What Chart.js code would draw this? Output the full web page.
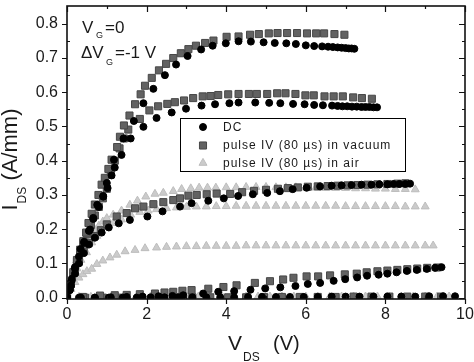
<!doctype html>
<html>
<head>
<meta charset="utf-8">
<script src="https://cdn.jsdelivr.net/npm/chart.js@4"></script>
<style>
  body { margin: 0; background: #fff; }
  #wrap { width: 474px; height: 362px; }
</style>
</head>
<body>
<div id="wrap"><canvas id="c" width="474" height="362"></canvas></div>
<script>
// ——— data (VDS in V, IDS in A/mm) ———
const legendLabels = ["DC", "pulse IV (80 \u00b5s) in vacuum", "pulse IV (80 \u00b5s) in air"];

// DC, VG = 0 ... -4 V
const dcVg0X = [0,0.07,0.12,0.2,0.34,0.43,0.58,0.66,0.76,0.91,1.0,1.18,1.42,1.68,1.92,2.17,2.46,2.74,3.03,3.37,3.66,3.99,4.31,4.62,4.94,5.22,5.51,5.75,6.0,6.21,6.41,6.56,6.68,6.8,6.9,7.0,7.08,7.15,7.22];
const dcVg0Y = [0,0.022,0.055,0.089,0.142,0.163,0.199,0.233,0.271,0.297,0.335,0.403,0.465,0.516,0.568,0.61,0.65,0.681,0.706,0.725,0.736,0.743,0.749,0.748,0.746,0.744,0.743,0.741,0.737,0.735,0.734,0.733,0.732,0.731,0.73,0.729,0.728,0.728,0.727];
const dcVg1X = [0,0.07,0.12,0.2,0.3,0.43,0.55,0.66,0.8,0.91,1.02,1.12,1.2,1.37,1.6,1.92,2.25,2.63,2.99,3.38,3.72,4.08,4.31,4.73,5.08,5.36,5.68,5.97,6.21,6.43,6.66,6.8,6.92,7.04,7.16,7.28,7.4,7.5,7.6,7.7,7.79];
const dcVg1Y = [0,0.022,0.05,0.085,0.12,0.16,0.195,0.23,0.265,0.295,0.32,0.357,0.38,0.417,0.465,0.499,0.525,0.541,0.552,0.561,0.565,0.568,0.57,0.57,0.569,0.568,0.566,0.565,0.563,0.562,0.561,0.56,0.559,0.559,0.558,0.558,0.557,0.557,0.557,0.556,0.556];
const dcVg2X = [0,0.1,0.2,0.3,0.42,0.55,0.7,0.87,1.05,1.3,1.58,2.02,2.4,2.84,3.13,3.55,3.94,4.3,4.67,5.03,5.35,5.67,6.02,6.36,6.65,6.9,7.15,7.4,7.65,7.85,8.05,8.2,8.35,8.5,8.62];
const dcVg2Y = [0,0.035,0.07,0.1,0.13,0.155,0.175,0.19,0.205,0.217,0.227,0.237,0.252,0.266,0.276,0.283,0.29,0.297,0.302,0.306,0.311,0.317,0.321,0.325,0.327,0.328,0.329,0.33,0.33,0.331,0.331,0.332,0.332,0.332,0.333];
const dcVg3X = [0,0.3,0.7,1.1,1.5,1.9,2.3,2.65,2.92,3.42,3.8,4.2,4.61,4.98,5.36,5.74,6.05,6.36,6.7,6.99,7.29,7.54,7.83,8.05,8.28,8.54,8.79,9.04,9.25,9.41];
const dcVg3Y = [0,0,0,0.001,0.002,0.003,0.004,0.005,0.007,0.012,0.017,0.019,0.023,0.027,0.03,0.034,0.04,0.043,0.049,0.054,0.059,0.064,0.067,0.07,0.074,0.078,0.081,0.084,0.087,0.089];
const dcVg4X = [0,0.35,0.7,1.05,1.4,1.75,2.1,2.45,2.8,3.15,3.5,3.85,4.2,4.55,4.9,5.25,5.6,5.95,6.3,6.65,7.0,7.35,7.7,8.05,8.4,8.75,9.1,9.45,9.75];
const dcVg4Y = [0,0,0,0,0,0,0.001,0.001,0.001,0.001,0.001,0.001,0.001,0.002,0.002,0.002,0.002,0.002,0.002,0.003,0.003,0.003,0.003,0.003,0.003,0.003,0.004,0.004,0.004];

// pulsed in vacuum
const vacVg0X = [0,0.08,0.16,0.25,0.33,0.41,0.48,0.54,0.62,0.7,0.79,0.87,0.95,1.04,1.12,1.26,1.33,1.43,1.57,1.71,1.85,1.96,2.13,2.31,2.49,2.67,2.86,3.05,3.24,3.47,3.68,4.01,4.31,4.6,4.82,5.07,5.29,5.53,5.78,6.03,6.26,6.46,6.72,6.97];
const vacVg0Y = [0,0.04,0.075,0.11,0.14,0.165,0.19,0.218,0.245,0.272,0.3,0.33,0.35,0.376,0.403,0.44,0.47,0.503,0.532,0.565,0.594,0.619,0.642,0.664,0.683,0.7,0.714,0.726,0.736,0.744,0.751,0.762,0.763,0.768,0.77,0.772,0.773,0.773,0.773,0.772,0.772,0.772,0.77,0.768];
const vacVg1X = [0,0.08,0.16,0.25,0.33,0.41,0.5,0.6,0.7,0.8,0.9,1.0,1.1,1.2,1.32,1.43,1.54,1.83,2.07,2.29,2.52,2.71,2.94,3.17,3.41,3.61,3.8,4.05,4.31,4.57,4.77,5.03,5.28,5.49,5.74,5.99,6.2,6.47,6.7,6.93,7.19,7.41,7.66];
const vacVg1Y = [0,0.038,0.072,0.105,0.135,0.16,0.185,0.212,0.24,0.265,0.29,0.318,0.36,0.4,0.436,0.465,0.491,0.522,0.547,0.559,0.566,0.571,0.576,0.583,0.588,0.589,0.592,0.594,0.595,0.595,0.595,0.595,0.597,0.597,0.595,0.591,0.591,0.588,0.588,0.588,0.585,0.583,0.581];
const vacVg2X = [0,0.1,0.2,0.3,0.42,0.55,0.7,0.85,1.0,1.25,1.5,1.71,1.92,2.17,2.42,2.67,2.84,3.05,3.26,3.51,3.76,4.1,4.4,4.7,5.0,5.3,5.55,5.8,6.05,6.3,6.55,6.8,7.05,7.3,7.55,7.8,8.05,8.3,8.5];
const vacVg2Y = [0,0.04,0.075,0.105,0.135,0.16,0.18,0.197,0.214,0.237,0.247,0.261,0.266,0.273,0.279,0.285,0.29,0.298,0.3,0.302,0.304,0.303,0.308,0.312,0.315,0.318,0.32,0.322,0.324,0.325,0.326,0.327,0.328,0.329,0.33,0.331,0.332,0.333,0.334];
const vacVg3X = [0,0.4,0.83,1.2,1.5,1.83,2.21,2.45,2.67,2.9,3.13,3.55,3.93,4.26,4.72,5.1,5.43,5.69,6.02,6.31,6.61,6.98,7.28,7.53,7.8,8.05,8.3,8.55,8.8,9.05,9.3];
const vacVg3Y = [0,0.002,0.006,0.007,0.008,0.01,0.012,0.015,0.017,0.02,0.022,0.026,0.031,0.036,0.043,0.048,0.053,0.058,0.062,0.062,0.065,0.068,0.07,0.074,0.077,0.079,0.081,0.083,0.085,0.087,0.088];
const vacVg4X = [0,0.45,0.9,1.35,1.8,2.25,2.7,3.15,3.6,4.05,4.5,4.95,5.4,5.85,6.3,6.75,7.2,7.65,8.1,8.55,9.0,9.4];
const vacVg4Y = [0,0,0,0,0,0.001,0.001,0.001,0.001,0.001,0.001,0.002,0.002,0.002,0.002,0.002,0.003,0.003,0.003,0.003,0.003,0.003];

// pulsed in air
const airVg0X = [0,0.08,0.16,0.24,0.33,0.42,0.5,0.6,0.7,0.8,0.9,1.0,1.16,1.37,1.58,1.77,1.98,2.21,2.42,2.67,2.88,3.11,3.32,3.53,3.74,4.0,4.25,4.5,4.75,5.0,5.25,5.5,5.75,6.0,6.25,6.5,6.75,7.0,7.25,7.5,7.75,8.0,8.25,8.5,8.75];
const airVg0Y = [0,0.04,0.079,0.108,0.13,0.15,0.168,0.185,0.198,0.21,0.222,0.232,0.242,0.254,0.271,0.283,0.295,0.303,0.306,0.311,0.317,0.319,0.321,0.321,0.321,0.322,0.322,0.323,0.323,0.323,0.322,0.322,0.322,0.321,0.321,0.32,0.32,0.32,0.319,0.319,0.318,0.318,0.317,0.317,0.316];
const airVg1X = [0,0.08,0.16,0.25,0.35,0.49,0.62,0.75,0.87,1.0,1.16,1.37,1.6,1.83,2.04,2.25,2.5,2.75,3.0,3.25,3.5,3.75,4.0,4.25,4.5,4.75,5.0,5.25,5.5,5.75,6.0,6.25,6.5,6.75,7.0,7.25,7.5,7.75,8.0,8.25,8.5,8.75,9.0];
const airVg1Y = [0,0.03,0.06,0.085,0.11,0.132,0.161,0.18,0.194,0.206,0.218,0.228,0.242,0.25,0.254,0.258,0.261,0.263,0.265,0.266,0.266,0.267,0.267,0.268,0.268,0.268,0.268,0.268,0.268,0.268,0.268,0.268,0.268,0.268,0.267,0.267,0.267,0.267,0.267,0.267,0.266,0.266,0.266];
const airVg2X = [0,0.1,0.2,0.3,0.4,0.5,0.62,0.75,0.9,1.08,1.25,1.46,1.71,1.96,2.25,2.5,2.75,3.0,3.25,3.5,3.75,4.0,4.25,4.5,4.75,5.0,5.25,5.5,5.75,6.0,6.25,6.5,6.75,7.0,7.25,7.5,7.75,8.0,8.25,8.5,8.75,9.0,9.2];
const airVg2Y = [0,0.025,0.045,0.058,0.068,0.077,0.084,0.098,0.108,0.117,0.125,0.135,0.139,0.144,0.146,0.148,0.149,0.15,0.15,0.151,0.151,0.151,0.151,0.152,0.152,0.152,0.152,0.152,0.152,0.152,0.152,0.152,0.152,0.152,0.152,0.152,0.152,0.152,0.152,0.152,0.152,0.152,0.152];
const airVg3X = [0,0.3,0.6,0.9,1.2,1.5,1.8,2.1,2.4,2.7,3.0,3.3,3.6,3.9,4.2,4.5,4.8,5.1,5.4,5.7,6.0,6.3,6.6,6.9,7.2,7.5,7.8,8.1,8.4,8.7,9.0,9.3,9.6];
const airVg3Y = [0,0.002,0.002,0.002,0.003,0.003,0.003,0.003,0.003,0.003,0.003,0.003,0.003,0.003,0.003,0.003,0.003,0.003,0.003,0.003,0.003,0.003,0.003,0.003,0.003,0.003,0.003,0.003,0.003,0.003,0.003,0.003,0.003];

// axis ticks
const xMajor = [0, 2, 4, 6, 8, 10];
const xMinor = [1, 3, 5, 7, 9];
const yMajor = [0, 0.1, 0.2, 0.3, 0.4, 0.5, 0.6, 0.7, 0.8];
const yMinor = [0.05, 0.15, 0.25, 0.35, 0.45, 0.55, 0.65, 0.75];

// ——— styles per series ———
const FONT = 'Arial, "Liberation Sans", sans-serif';
const groups = [
  { curves: [[dcVg0X, dcVg0Y], [dcVg1X, dcVg1Y], [dcVg2X, dcVg2Y], [dcVg3X, dcVg3Y], [dcVg4X, dcVg4Y]],
    style: { pointStyle: "circle", pointRadius: 3.5, backgroundColor: "#000", borderColor: "#000", borderWidth: 1 } },
  { curves: [[vacVg0X, vacVg0Y], [vacVg1X, vacVg1Y], [vacVg2X, vacVg2Y], [vacVg3X, vacVg3Y], [vacVg4X, vacVg4Y]],
    style: { pointStyle: "rect", pointRadius: 5, backgroundColor: "#626262", borderColor: "#474747", borderWidth: 1 } },
  { curves: [[airVg0X, airVg0Y], [airVg1X, airVg1Y], [airVg2X, airVg2Y], [airVg3X, airVg3Y]],
    style: { pointStyle: "triangle", pointRadius: 4.6, backgroundColor: "#cbcbcb", borderColor: "#bdbdbd", borderWidth: 1 } }
];

const datasets = [];
groups.forEach((g, gi) => {
  g.curves.forEach(([xs, ys]) => {
    datasets.push({
      label: legendLabels[gi],
      data: xs.map((v, i) => ({ x: v, y: ys[i] })),
      showLine: false,
      clip: 0,
      pointHoverRadius: g.style.pointRadius,
      ...g.style
    });
  });
});

// frame, inward ticks, titles, annotations, legend box
const decor = {
  id: "decor",
  afterDraw(chart) {
    const { ctx, chartArea: a, scales: { x, y } } = chart;
    ctx.save();
    ctx.strokeStyle = "#111";
    ctx.lineWidth = 1.6;
    ctx.strokeRect(a.left, a.top, a.right - a.left, a.bottom - a.top);

    ctx.lineWidth = 1.2;
    ctx.beginPath();
    xMajor.forEach((v) => {
      const p = Math.round(x.getPixelForValue(v)) + 0.5;
      ctx.moveTo(p, a.bottom); ctx.lineTo(p, a.bottom + 5);
      ctx.moveTo(p, a.top); ctx.lineTo(p, a.top + 6);
    });
    xMinor.forEach((v) => {
      const p = Math.round(x.getPixelForValue(v)) + 0.5;
      ctx.moveTo(p, a.bottom); ctx.lineTo(p, a.bottom - 3);
      ctx.moveTo(p, a.top); ctx.lineTo(p, a.top + 3);
    });
    yMajor.forEach((v) => {
      const p = Math.round(y.getPixelForValue(v)) + 0.5;
      ctx.moveTo(a.left, p); ctx.lineTo(a.left - 5, p);
      ctx.moveTo(a.right, p); ctx.lineTo(a.right - 6, p);
    });
    yMinor.forEach((v) => {
      const p = Math.round(y.getPixelForValue(v)) + 0.5;
      ctx.moveTo(a.left, p); ctx.lineTo(a.left + 3, p);
      ctx.moveTo(a.right, p); ctx.lineTo(a.right - 3, p);
    });
    ctx.stroke();

    ctx.fillStyle = "#1a1a1a";
    ctx.textBaseline = "alphabetic";
    ctx.textAlign = "left";

    // x title: V_DS (V)
    ctx.font = "21px " + FONT;
    ctx.fillText("V", 228, 350);
    ctx.font = "12px " + FONT;
    ctx.fillText("DS", 243, 361);
    ctx.font = "20px " + FONT;
    ctx.fillText("(V)", 273, 350);

    // y title: I_DS (A/mm), rotated
    ctx.save();
    ctx.translate(17, 160);
    ctx.rotate(-Math.PI / 2);
    ctx.font = "22px " + FONT;
    const wI = ctx.measureText("I").width;
    const wRest = ctx.measureText(" (A/mm)").width;
    ctx.font = "12px " + FONT;
    const wSub = ctx.measureText("DS").width;
    let sx = -(wI + wSub + wRest) / 2;
    ctx.font = "22px " + FONT;
    ctx.fillText("I", sx, 0);
    ctx.font = "12px " + FONT;
    ctx.fillText("DS", sx + wI + 1, 9);
    ctx.font = "22px " + FONT;
    ctx.fillText(" (A/mm)", sx + wI + wSub + 1, 0);
    ctx.restore();

    // annotations
    ctx.font = "17px " + FONT;
    ctx.fillText("V", 82, 33);
    ctx.fillText("=0", 105, 33);
    ctx.fillText("\u0394V", 81, 58);
    ctx.fillText("=-1 V", 115, 58);
    ctx.font = "9px " + FONT;
    ctx.fillText("G", 96, 38);
    ctx.fillText("G", 106, 65);

    // legend box
    ctx.lineWidth = 1;
    ctx.strokeStyle = "#000";
    ctx.fillStyle = "#fff";
    ctx.fillRect(180.5, 118.5, 225, 53);
    ctx.strokeRect(180.5, 118.5, 225, 53);
    const rows = [127, 145.5, 163];
    groups.forEach((g, i) => {
      const s = g.style;
      ctx.fillStyle = s.backgroundColor;
      ctx.strokeStyle = s.borderColor;
      ctx.lineWidth = s.borderWidth;
      Chart.helpers.drawPoint(ctx, { pointStyle: s.pointStyle, radius: s.pointRadius, borderWidth: s.borderWidth }, 203, rows[i]);
      ctx.fillStyle = "#1a1a1a";
      ctx.font = "12px " + FONT;
      ctx.letterSpacing = "1px";
      ctx.textBaseline = "middle";
      ctx.fillText(legendLabels[i], 223, rows[i] + 0.5);
      ctx.letterSpacing = "0px";
    });
    ctx.restore();
  }
};

new Chart(document.getElementById("c").getContext("2d"), {
  type: "scatter",
  data: { datasets },
  options: {
    responsive: false,
    animation: false,
    layout: { padding: { left: 0, right: 9, top: 1, bottom: 0 } },
    plugins: { legend: { display: false }, tooltip: { enabled: false } },
    scales: {
      x: {
        type: "linear", min: 0, max: 10,
        afterBuildTicks: (s) => { s.ticks = xMajor.map((v) => ({ value: v })); },
        afterFit: (s) => { s.height = 63; s.paddingLeft = 0; s.paddingRight = 0; },
        grid: { display: false, drawTicks: false },
        border: { display: false },
        ticks: { padding: 6, color: "#1a1a1a", font: { family: FONT, size: 16 }, maxRotation: 0 }
      },
      y: {
        type: "linear", min: -0.004, max: 0.852,
        afterBuildTicks: (s) => { s.ticks = yMajor.map((v) => ({ value: v })); },
        afterFit: (s) => { s.width = 67; s.paddingTop = 0; s.paddingBottom = 0; },
        grid: { display: false, drawTicks: false },
        border: { display: false },
        ticks: { padding: 9, color: "#1a1a1a", font: { family: FONT, size: 16 }, callback: (v) => v.toFixed(1) }
      }
    }
  },
  plugins: [decor]
});
</script>
</body>
</html>
